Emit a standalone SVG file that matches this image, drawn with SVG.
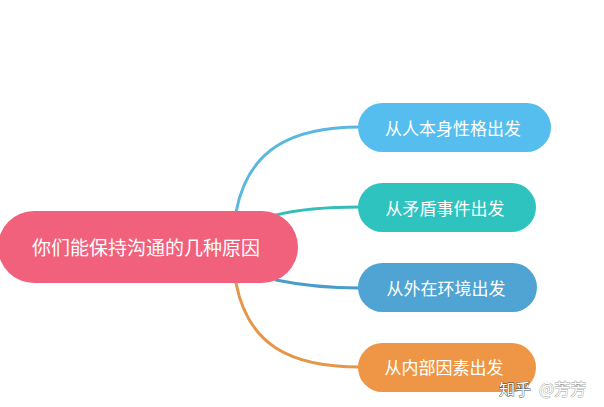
<svg xmlns="http://www.w3.org/2000/svg" width="604" height="407" viewBox="0 0 604 407">
<style>
.t{font-family:"Noto Sans CJK SC","Noto Sans",sans-serif;fill:#fff;text-anchor:middle;dominant-baseline:central}
.c{fill:none;stroke-width:3;stroke-linecap:round}
.wm{font-family:"Noto Sans CJK SC",sans-serif;font-size:16px;dominant-baseline:central}
</style>
<rect width="604" height="407" fill="#fff"/>
<g id="connectors">
<path class="c" stroke="#5BB7DF" d="M236,212 C248,150 290,127 360,127"/>
<path class="c" stroke="#35BDB9" d="M276,215 C300,209 330,207 360,207"/>
<path class="c" stroke="#4A9DCB" d="M276,280 C300,285 330,288 360,288"/>
<path class="c" stroke="#E5964A" d="M236,283 C248,345 290,367 360,367"/>
</g>
<g id="root">
<rect x="-2" y="211" width="300" height="72" rx="36" fill="#F2617C"/>
<text class="t" x="146" y="246" font-size="19">你们能保持沟通的几种原因</text>
</g>
<g id="n1">
<rect x="358" y="103" width="193" height="49" rx="24.5" fill="#56BEEE"/>
<text class="t" x="453" y="127.5" font-size="17">从人本身性格出发</text>
</g>
<g id="n2">
<rect x="358" y="183" width="178" height="49" rx="24.5" fill="#2FC3BF"/>
<text class="t" x="445" y="207.5" font-size="17">从矛盾事件出发</text>
</g>
<g id="n3">
<rect x="358" y="263" width="179" height="49" rx="24.5" fill="#4FA4D3"/>
<text class="t" x="446" y="287.5" font-size="17">从外在环境出发</text>
</g>
<g id="n4">
<rect x="358" y="343" width="178" height="49" rx="24.5" fill="#EE9646"/>
<text class="t" x="444" y="366" font-size="17">从内部因素出发</text>
</g>
<g id="watermark">
<text class="wm" x="499" y="388" fill="#fff" stroke="#444" stroke-width="0.8" paint-order="stroke">知乎</text>
<text class="wm" x="539" y="388" fill="#fff" stroke="#999" stroke-width="0.8" paint-order="stroke">@芳芳</text>
</g>
</svg>
